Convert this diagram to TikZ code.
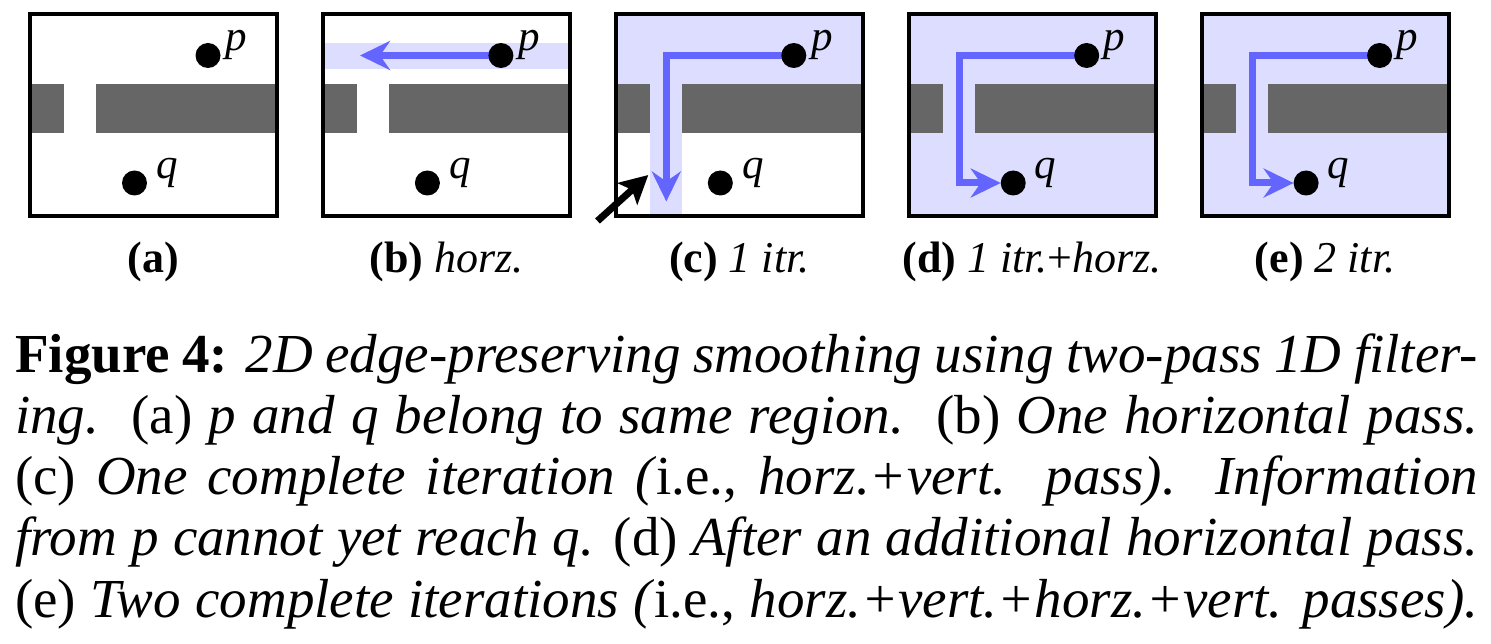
\documentclass[tikz,border=0pt]{standalone}
\usepackage{fontspec}
\setmainfont{Liberation Serif}
\usetikzlibrary{arrows.meta}
\definecolor{pathblue}{RGB}{100,100,255}
\definecolor{lightblue}{RGB}{221,221,255}
\definecolor{bargray}{RGB}{102,102,102}
\pgfdeclarelayer{canvas}
\pgfdeclarelayer{tint}
\pgfdeclarelayer{bars}
\pgfdeclarelayer{paths}
\pgfsetlayers{canvas,tint,bars,paths,main}
\begin{document}
\begin{tikzpicture}[x=1pt,y=-1pt,
  dot/.style={circle, fill=black, inner sep=0pt, outer sep=0pt, minimum size=25pt},
  ptlabel/.style={anchor=base west, inner sep=0pt, font=\fontsize{43}{50}\selectfont\itshape},
  panelframe/.style={draw=black, line width=4pt, minimum width=247pt, minimum height=202pt, inner sep=0pt},
  sublabel/.style={anchor=base, inner sep=0pt, font=\fontsize{44}{50}\selectfont},
  capline/.style={anchor=base west, inner sep=0pt, font=\fontsize{55}{61}\selectfont},
  bluepath/.style={draw=pathblue, line width=7pt, line join=miter, -{Stealth[length=30pt, width=29pt, inset=10pt]}},
  blackarrow/.style={draw=black, line width=7pt, -{Stealth[length=28pt, width=29pt, inset=6pt]}}
]
\useasboundingbox (0,0) rectangle (1491,644);
\begin{pgfonlayer}{canvas}
  \fill[white] (0,0) rectangle (1491,644);
\end{pgfonlayer}

% common parts of the five panels
\foreach \X/\k in {28/a, 320.9/b, 613.8/c, 906.7/d, 1199.6/e} {
  \begin{pgfonlayer}{bars}
    \fill[bargray] (\X+4,84) rectangle (\X+36,133);
    \fill[bargray] (\X+68,84) rectangle (\X+247,133);
  \end{pgfonlayer}
  \node[dot] (p\k) at (\X+180,55.5) {};
  \node[dot] (q\k) at (\X+106.5,183) {};
  \node[ptlabel] (pl\k) at (\X+197,50.5) {p};
  \node[ptlabel] (ql\k) at (\X+128,178.5) {q};
  \node[panelframe] (box\k) at (\X+125.5,115.3) {};
  \coordinate (v\k) at (\X+52.5,0);
}

% tinted regions
\begin{pgfonlayer}{tint}
  \fill[lightblue] (324.9,43.3) rectangle (567.9,69);
  \fill[lightblue] (617.8,16.3) rectangle (860.8,133);
  \fill[lightblue] (649.8,133) rectangle (681.8,214.3);
  \fill[lightblue] (910.7,16.3) rectangle (1153.7,214.3);
  \fill[lightblue] (1203.6,16.3) rectangle (1446.6,214.3);
\end{pgfonlayer}

% propagation paths
\coordinate (tipb) at (360,55.5);
\coordinate (tipc) at (666.3,201.5);
\coordinate (bstart) at (597.5,221);
\coordinate (btip) at (648.3,175);
\begin{pgfonlayer}{paths}
  \draw[bluepath] (pb.center) -- (tipb);
  \draw[bluepath] (pc.center) -| (tipc);
  \draw[bluepath] (pd.center) -- (pd.center -| vd) |- (qd.west);
  \draw[bluepath] (pe.center) -- (pe.center -| ve) |- (qe.west);
\end{pgfonlayer}
\draw[blackarrow] (bstart) -- (btip);

% sub-captions
\node[sublabel] (la) at (153.5,273) {\textbf{(a)}};
\node[sublabel] (lb) at (446.4,273) {\textbf{(b)} \textit{horz.}};
\node[sublabel] (lc) at (739.3,273) {\textbf{(c)} \textit{1 itr.}};
\node[sublabel] (ld) at (1032.2,273) {\textbf{(d)} \textit{1 itr.}+\textit{horz.}};
\node[sublabel] (le) at (1325.1,273) {\textbf{(e)} \textit{2 itr.}};

% caption
\node[capline] (cap1) at (15,372) {\makebox[1463pt][s]{\textbf{Figure 4:} \textit{2D edge-preserving smoothing using two-pass 1D filter-}}};
\node[capline] (cap2) at (15,433.3) {\makebox[1463pt][s]{\textit{ing.}\ \ (a) \textit{p and q belong to same region.}\ \ (b) \textit{One horizontal pass.}}};
\node[capline] (cap3) at (15,494.6) {\makebox[1463pt][s]{(c) \textit{One complete iteration (}i.e., \textit{horz.+vert.\ \ pass).\ \ Information}}};
\node[capline] (cap4) at (15,555.9) {\makebox[1463pt][s]{\textit{from p cannot yet reach q.} (d) \textit{After an additional horizontal pass.}}};
\node[capline] (cap5) at (15,617.2) {\makebox[1463pt][s]{(e) \textit{Two complete iterations (}i.e., \textit{horz.+vert.+horz.+vert. passes).}}};
\end{tikzpicture}
\end{document}
